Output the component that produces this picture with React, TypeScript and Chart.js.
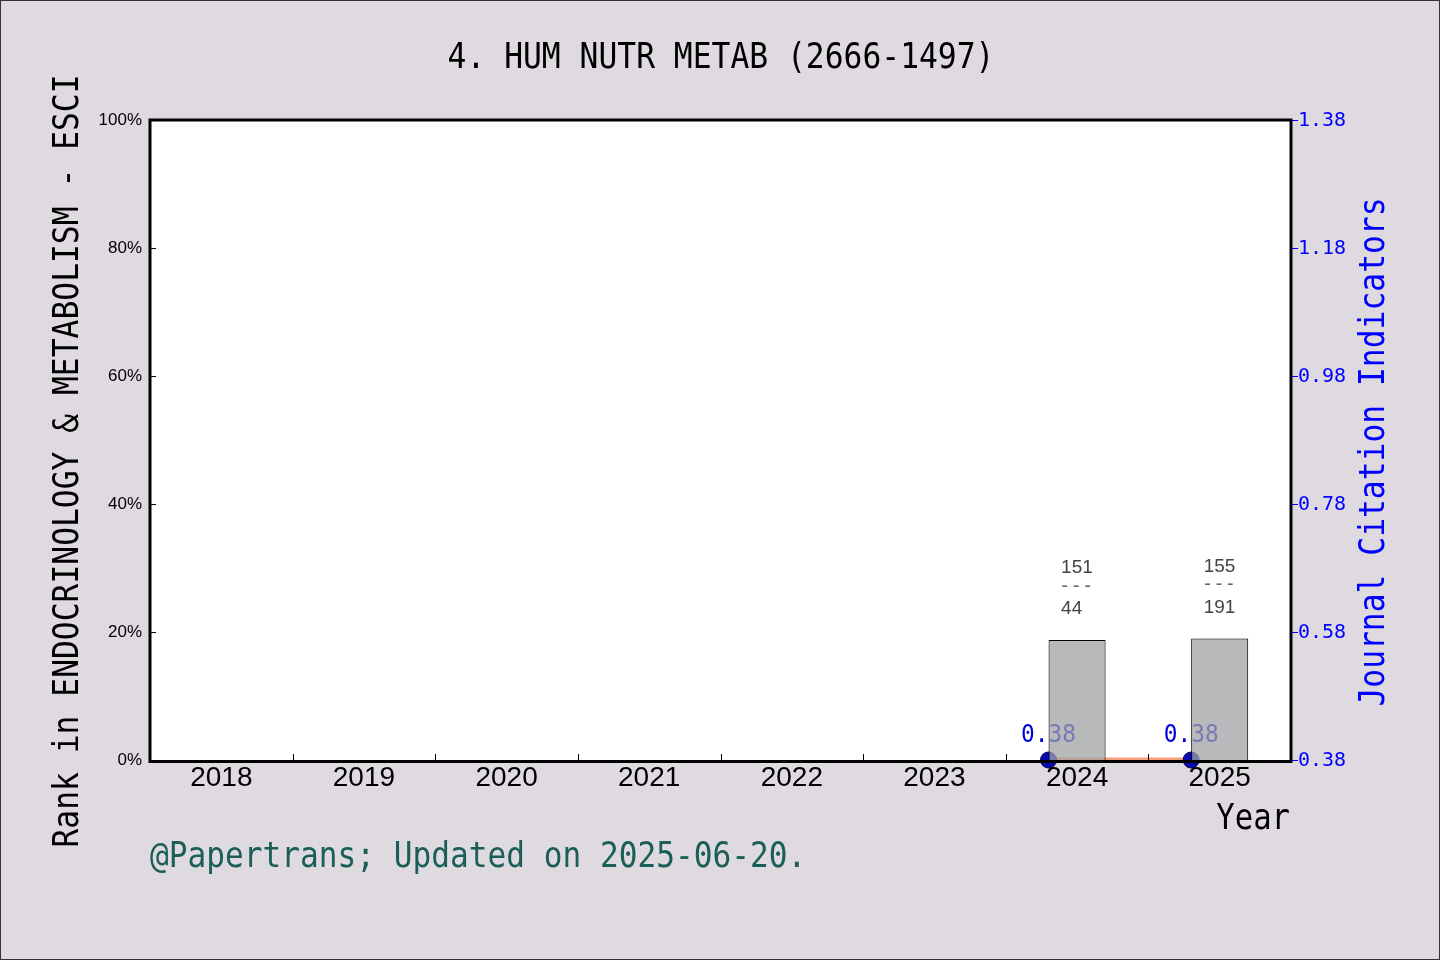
import { useEffect, useRef } from "react";
import { Chart, registerables } from "chart.js";

Chart.register(...registerables);

const years = ["2018", "2019", "2020", "2021", "2022", "2023", "2024", "2025"];
const rankPct = [null, null, null, null, null, null, 18.75, 19.0];
const rankTop = ["", "", "", "", "", "", "151", "155"];
const rankBottom = ["", "", "", "", "", "", "44", "191"];
const jciYears = ["2024", "2025"];
const jciValues = [0.38, 0.38];
const rankTicks = [0, 20, 40, 60, 80, 100];
const jciTicks = [0.38, 0.58, 0.78, 0.98, 1.18, 1.38];

const BG = "#dedae0";
const MONO = "'DejaVu Sans Mono', monospace";
const SANS = "'Liberation Sans', Arial, sans-serif";

function txt(ctx: CanvasRenderingContext2D, s: string, x: number, y: number, font: string, color: string, align: CanvasTextAlign, sx = 1, rot = 0) {
  ctx.save();
  ctx.translate(x, y);
  if (rot) ctx.rotate(rot);
  ctx.scale(sx, 1);
  ctx.font = font;
  ctx.fillStyle = color;
  ctx.textAlign = align;
  ctx.textBaseline = "middle";
  ctx.fillText(s, 0, 0);
  ctx.restore();
}

const decor = {
  id: "decor",
  beforeDraw(chart: any) {
    const { ctx, chartArea: a } = chart;
    ctx.save();
    ctx.fillStyle = BG;
    ctx.fillRect(0, 0, chart.width, chart.height);
    ctx.fillStyle = "#fff";
    ctx.fillRect(a.left, a.top, a.right - a.left, a.bottom - a.top);
    ctx.restore();
  },
  afterDatasetDraw(chart: any, args: any) {
    if (args.index !== 1) return;
    const { ctx } = chart;
    const meta = chart.getDatasetMeta(1);
    meta.data.forEach((pt: any, i: number) => {
      txt(ctx, jciValues[i].toFixed(2), pt.x, pt.y - 24, `24px ${MONO}`, "#0000dd", "center", 0.95);
    });
  },
  afterDatasetsDraw(chart: any) {
    const { ctx, chartArea: a } = chart;
    const x = chart.scales.x;
    const y = chart.scales.y;
    const y1 = chart.scales.y1;

    // bar labels
    const bm = chart.getDatasetMeta(0);
    bm.data.forEach((bar: any, i: number) => {
      if (rankPct[i] == null) return;
      ctx.save();
      ctx.font = `19px ${SANS}`;
      const w = Math.max(ctx.measureText(rankTop[i]).width, ctx.measureText(rankBottom[i]).width, 32);
      ctx.restore();
      const lx = bar.x - w / 2;
      txt(ctx, rankTop[i], lx, bar.y - 72, `19px ${SANS}`, "#444", "left");
      txt(ctx, "---", lx - 2, bar.y - 53, `19px ${MONO}`, "#666", "left", 1.0);
      txt(ctx, rankBottom[i], lx, bar.y - 31, `19px ${SANS}`, "#444", "left");
    });

    ctx.save();
    // category ticks (inward)
    ctx.strokeStyle = "#000";
    ctx.lineWidth = 1;
    for (let i = 1; i < years.length; i++) {
      const px = Math.round((x.getPixelForValue(i - 1) + x.getPixelForValue(i)) / 2) + 0.5;
      ctx.beginPath();
      ctx.moveTo(px, a.bottom);
      ctx.lineTo(px, a.bottom - 6);
      ctx.stroke();
    }
    // left ticks
    rankTicks.forEach((v) => {
      const py = Math.round(y.getPixelForValue(v)) + 0.5;
      ctx.beginPath();
      ctx.moveTo(a.left, py);
      ctx.lineTo(a.left + 6, py);
      ctx.stroke();
    });
    // right ticks
    ctx.strokeStyle = "#0000ff";
    jciTicks.forEach((v) => {
      const py = Math.round(y1.getPixelForValue(v)) + 0.5;
      ctx.beginPath();
      ctx.moveTo(a.right, py);
      ctx.lineTo(a.right + 7, py);
      ctx.stroke();
    });
    // frame
    ctx.strokeStyle = "#000";
    ctx.lineWidth = 3;
    ctx.strokeRect(a.left, a.top, a.right - a.left, a.bottom + 1.5 - a.top);
    // outer border
    ctx.lineWidth = 1;
    ctx.strokeStyle = "#333";
    ctx.strokeRect(0.5, 0.5, chart.width - 1, chart.height - 1);
    ctx.restore();

    rankTicks.forEach((v) => {
      txt(ctx, `${v}%`, a.left - 8, y.getPixelForValue(v), `17px ${SANS}`, "#000", "right");
    });
    jciTicks.forEach((v) => {
      txt(ctx, v.toFixed(2), a.right + 7, y1.getPixelForValue(v) + 1, `20px ${MONO}`, "#0000ff", "left");
    });
    years.forEach((yr, i) => {
      txt(ctx, yr, x.getPixelForValue(i), a.bottom + 18, `28px ${SANS}`, "#000", "center");
    });

    const big = `36px ${MONO}`;
    txt(ctx, "4. HUM NUTR METAB (2666-1497)", 721, 59, big, "#000", "center", 0.87);
    txt(ctx, "Rank in ENDOCRINOLOGY & METABOLISM - ESCI", 69, 461, big, "#000", "center", 0.87, -Math.PI / 2);
    txt(ctx, "Journal Citation Indicators", 1375, 452, big, "#0000ff", "center", 0.87, -Math.PI / 2);
    txt(ctx, "Year", 1290, 820, big, "#000", "right", 0.85);
    txt(ctx, "@Papertrans; Updated on 2025-06-20.", 150, 858, big, "#1b5e57", "left", 0.865);
  },
};

export default function App() {
  const ref = useRef<HTMLCanvasElement | null>(null);

  useEffect(() => {
    document.body.style.margin = "0";
    if (!ref.current) return;
    const c = new Chart(ref.current, {
      type: "bar",
      data: {
        labels: years,
        datasets: [
          {
            type: "bar",
            data: rankPct,
            xAxisID: "x",
            yAxisID: "y",
            backgroundColor: "rgba(160,162,164,0.75)",
            borderColor: "#000",
            borderWidth: 1,
            barPercentage: 1,
            categoryPercentage: 0.4,
            grouped: false,
            order: 0,
          },
          {
            type: "line",
            data: jciYears.map((yr, i) => ({ x: years.indexOf(yr) - 0.2, y: jciValues[i] })),
            xAxisID: "x2",
            yAxisID: "y1",
            borderColor: "#f7a07a",
            borderWidth: 5,
            pointRadius: 8,
            pointBackgroundColor: "#0a0ab4",
            pointBorderColor: "#00004a",
            pointBorderWidth: 1,
            clip: false,
            order: 1,
          } as any,
        ],
      },
      options: {
        responsive: false,
        animation: false,
        devicePixelRatio: 1,
        layout: { padding: { top: 120, left: 0, right: 0, bottom: 0 } },
        plugins: { legend: { display: false }, tooltip: { enabled: false } },
        scales: {
          x: {
            type: "category",
            offset: true,
            grid: { display: false },
            border: { display: false },
            ticks: { display: false },
            afterFit: (s: any) => { s.height = 200; },
          },
          x2: { type: "linear", min: -0.5, max: 7.5, offset: false, display: false },
          y: {
            position: "left",
            min: 0,
            max: 100,
            grid: { display: false },
            border: { display: false },
            ticks: { display: false },
            afterFit: (s: any) => { s.width = 150; },
          },
          y1: {
            position: "right",
            min: 0.38,
            max: 1.38,
            grid: { display: false },
            border: { display: false },
            ticks: { display: false },
            afterFit: (s: any) => { s.width = 149; },
          },
        },
      },
      plugins: [decor],
    });
    return () => c.destroy();
  }, []);

  return (
    <div style={{ width: 1440, height: 960 }}>
      <canvas ref={ref} width={1440} height={960} />
    </div>
  );
}
